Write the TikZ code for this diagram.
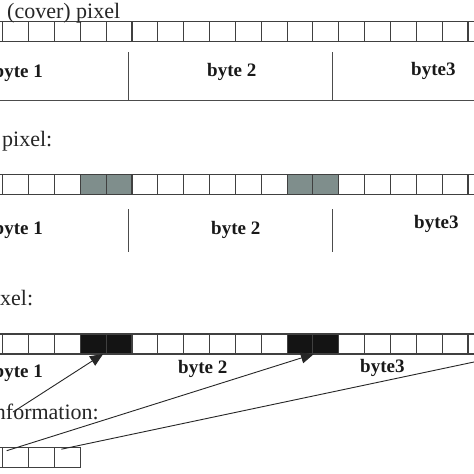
\documentclass[tikz,border=0pt]{standalone}
\usepackage{fontspec}
\setmainfont{Liberation Serif}
\usetikzlibrary{arrows.meta,calc}
\definecolor{cellgray}{RGB}{127,142,140}
\begin{document}
\begin{tikzpicture}[x=1pt,y=-1pt,
  cell/.style={draw=black!75,line width=1.1pt,minimum width=25.85pt,minimum height=20pt,inner sep=0pt,outer sep=0pt,anchor=north west},
  grayc/.style={cell,fill=cellgray},
  blackc/.style={cell,fill=black!92},
  lbl/.style={font=\fontsize{22}{24}\selectfont,inner sep=0pt,text=black!85},
  bytel/.style={font=\bfseries\fontsize{19}{21}\selectfont,inner sep=0pt,text=black!90},
  divline/.style={draw=black!70,line width=1pt},
  arr/.style={draw=black!85,line width=0.9pt},
  tipped/.style={-{Triangle[length=13pt,width=11pt]}}
]
\useasboundingbox (0,0) rectangle (474,474);
\clip (0,0) rectangle (474,474);
\fill[white] (0,0) rectangle (474,474);

% pixel rows
\foreach \i in {0,...,19}{
  \pgfmathsetmacro\xx{2.7+25.85*(\i-1)}
  \pgfmathtruncatemacro\hl{(\i==4)||(\i==5)||(\i==12)||(\i==13)}
  \ifnum\hl=1 \def\stA{grayc}\def\stB{blackc}\else\def\stA{cell}\def\stB{cell}\fi
  \node[cell] (a\i) at (\xx,21.5) {};
  \node[\stA] (b\i) at (\xx,174.5) {};
  \node[\stB] (c\i) at (\xx,334) {};
}
% secret information boxes
\foreach \i in {0,...,3}{
  \pgfmathsetmacro\xx{2.7+25.85*(\i-1)}
  \node[cell] (d\i) at (\xx,447.7) {};
}

% labels
\node[lbl,anchor=base west] (l1) at (7,18) {(cover) pixel};
\node[lbl,anchor=base west] (l2) at (2,146.5) {pixel:};
\node[lbl,anchor=base west] (l3) at (0,305) {xel:};
\node[lbl,anchor=base east] (l4) at (99,419.3) {nformation:};

% byte section 1
\draw[divline] (128,52) -- (128,100);
\draw[divline] (332,52) -- (332,100);
\draw[divline] (0,100) -- (474,100);
\node[bytel,anchor=base east] (p1) at (43,77) {byte 1};
\node[bytel,anchor=base west] (p2) at (207,76) {byte 2};
\node[bytel,anchor=base west] (p3) at (411,75) {byte3};

% byte section 2
\draw[divline] (128,209) -- (128,252);
\draw[divline] (332,209) -- (332,252);
\node[bytel,anchor=base east] (q1) at (43,234) {byte 1};
\node[bytel,anchor=base west] (q2) at (211,234) {byte 2};
\node[bytel,anchor=base west] (q3) at (414,228) {byte3};

% byte labels 3
\node[bytel,anchor=base east] (r1) at (43,377.5) {byte 1};
\node[bytel,anchor=base west] (r2) at (178,373) {byte 2};
\node[bytel,anchor=base west] (r3) at (360,372) {byte3};

% arrows
\coordinate (s1) at (13,412);
\coordinate (s2) at ($(d1.north west)+(4,3)$);
\coordinate (s3) at ($(d3.north west)+(7,1.5)$);
\coordinate (e3) at (474,362);
\draw[arr,tipped] (s1) -- ($(c4.south east)+(-3,0)$);
\draw[arr,tipped] (s2) -- ($(c13.south west)+(1,0)$);
\draw[arr] (s3) -- (e3);
\end{tikzpicture}
\end{document}
